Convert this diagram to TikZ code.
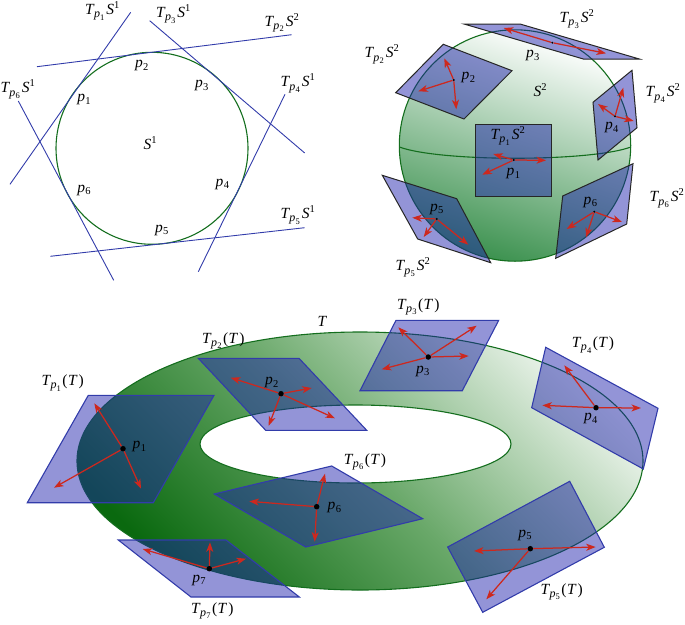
\documentclass[tikz,border=0pt]{standalone}
\usepackage{fontspec}
\setmainfont{Liberation Serif}
\usetikzlibrary{arrows.meta}
\definecolor{darkgrn}{RGB}{10,105,15}
\definecolor{midgrn}{RGB}{105,168,105}
\definecolor{spheregrn}{RGB}{50,140,70}
\definecolor{circgrn}{RGB}{20,110,30}
\definecolor{linblue}{RGB}{50,60,170}
\definecolor{planefill}{RGB}{30,32,172}
\definecolor{vecred}{RGB}{205,40,30}
\pgfdeclareverticalshading{torusgrad}{100bp}{color(0bp)=(darkgrn); color(36.7bp)=(darkgrn); color(49.8bp)=(midgrn); color(65bp)=(white); color(100bp)=(white)}
\pgfdeclareverticalshading{spheregrad}{100bp}{color(0bp)=(spheregrn); color(34bp)=(spheregrn); color(64bp)=(white); color(100bp)=(white)}
\newcommand{\Pp}[1]{\textit{p}\kern.4pt\raisebox{-2.8pt}{\fontsize{10.5}{10.5}\selectfont #1}}
\newcommand{\Tsub}[1]{\textit{T}\kern-.6pt\raisebox{-3.4pt}{\fontsize{12}{12}\selectfont\textit{p}\kern.2pt\raisebox{-2.2pt}{\fontsize{8.5}{8.5}\selectfont #1}}}
\newcommand{\Sph}[1]{\kern2pt\textit{S}\raisebox{6pt}{\fontsize{10.5}{10.5}\selectfont #1}}
\newcommand{\ofT}{\kern1.5pt(\kern.5pt\textit{T}\kern1pt)}
\tikzset{
  lab/.style={inner sep=0pt,font=\fontsize{15.5}{15.5}\selectfont},
  tanline/.style={draw=linblue,line width=.9pt},
  curve/.style={draw=circgrn,line width=1.1pt},
  torusplane/.style={draw=linblue,line width=1.1pt,fill=planefill,fill opacity=.48,draw opacity=1,line join=miter},
  sphereplane/.style={draw=black!85,line width=1pt,fill=planefill,fill opacity=.48,draw opacity=1,line join=miter},
  vecarrow/.style={draw=vecred,line width=1.25pt,-{Stealth[length=9.5pt,width=7pt,inset=2.6pt]}},
  bigdot/.style={circle,fill=black,inner sep=0pt,minimum size=5.5pt},
  smalldot/.style={circle,fill=black,inner sep=0pt,minimum size=2.2pt},
}
\begin{document}
\begin{tikzpicture}[x=1pt,y=-1pt]
\useasboundingbox (0,0) rectangle (685,624);
% ---- circle
\node[draw=circgrn,line width=1.1pt,circle,inner sep=0pt,minimum size=192pt] (circ) at (152,148.3) {};
\coordinate (a1) at (130.7,12.3); \coordinate (b1) at (10,184.3);
\coordinate (a2) at (37,66.7);    \coordinate (b2) at (291.7,34.7);
\coordinate (a3) at (149.7,20.7); \coordinate (b3) at (304.7,153);
\coordinate (a4) at (285,94.3);   \coordinate (b4) at (198.3,271.7);
\coordinate (a5) at (50.3,256.3); \coordinate (b5) at (304.7,227.7);
\coordinate (a6) at (18.3,101);   \coordinate (b6) at (113.7,280.3);
\foreach \i in {1,...,6} {\draw[tanline] (a\i) -- (b\i);}
\node[lab] (c1) at (102.3,11) {\Tsub{1}\Sph{1}};
\node[lab] (c3) at (173.3,14) {\Tsub{3}\Sph{1}};
\node[lab] (c2) at (281.7,22.7) {\Tsub{2}\Sph{2}};
\node[lab] (c4) at (297.7,83.3) {\Tsub{4}\Sph{1}};
\node[lab] (c6) at (17.7,89.3) {\Tsub{6}\Sph{1}};
\node[lab] (c5) at (297.7,215) {\Tsub{5}\Sph{1}};
\node[lab] (cp1) at (84,99.3) {\Pp{1}};
\node[lab] (cp2) at (141.7,65.7) {\Pp{2}};
\node[lab] (cp3) at (201.7,85.7) {\Pp{3}};
\node[lab] (cp4) at (222.3,184) {\Pp{4}};
\node[lab] (cp5) at (161.7,230) {\Pp{5}};
\node[lab] (cp6) at (84,190) {\Pp{6}};
\node[lab] (cs) at (150,143.3) {\textit{S}\raisebox{6pt}{\fontsize{10.5}{10.5}\selectfont 1}};
% ---- sphere
\begin{scope}
\clip (515,145.5) circle[radius=115.7];
\shade[shading=spheregrad,shading angle=-18] (315,-55) rectangle (715,345);
\end{scope}
\draw[curve] (515,145.5) circle[radius=115.7];
\draw[curve] (399.3,147) .. controls (440,162) and (590,162) .. (631,147);
\draw[sphereplane] (475.7,124) -- (551.7,124) -- (551.7,196.3) -- (475.7,196.3) -- cycle;
\draw[sphereplane] (443.3,44.3) -- (512,70.7) -- (464,119) -- (395.7,92.7) -- cycle;
\draw[sphereplane] (464,24) -- (520,24) -- (639.3,59) -- (583.3,59) -- cycle;
\draw[sphereplane] (632,70.3) -- (637,127.7) -- (598,160) -- (593,102.3) -- cycle;
\draw[sphereplane] (382.3,175.3) -- (456.7,198.7) -- (490.7,262.7) -- (417.7,239) -- cycle;
\draw[sphereplane] (633,163.7) -- (626.7,224) -- (555.7,258.3) -- (562.7,196) -- cycle;
\node[smalldot] (s1) at (513.7,160) {};
\node[smalldot] (s2) at (453.7,80) {};
\node[smalldot] (s3) at (552.3,42.7) {};
\node[smalldot] (s4) at (615,116.3) {};
\node[smalldot] (s5) at (436.7,219) {};
\node[smalldot] (s6) at (594.3,211.7) {};
\draw[vecarrow] (s1) -- (493.3,154) coordinate (s1a);
\draw[vecarrow] (s1) -- (546,160.3) coordinate (s1b);
\draw[vecarrow] (s1) -- (482.3,174.7) coordinate (s1c);
\draw[vecarrow] (s2) -- (444.3,58.3) coordinate (s2a);
\draw[vecarrow] (s2) -- (418.3,91.3) coordinate (s2b);
\draw[vecarrow] (s2) -- (456.3,109.3) coordinate (s2c);
\draw[vecarrow] (s3) -- (503.7,28) coordinate (s3a);
\draw[vecarrow] (s3) -- (606,53.3) coordinate (s3b);
\draw[vecarrow] (s4) -- (598,104) coordinate (s4a);
\draw[vecarrow] (s4) -- (623.3,87.7) coordinate (s4b);
\draw[vecarrow] (s4) -- (633.7,121) coordinate (s4c);
\draw[vecarrow] (s5) -- (412.3,217.7) coordinate (s5a);
\draw[vecarrow] (s5) -- (423.7,237) coordinate (s5b);
\draw[vecarrow] (s5) -- (468.3,244.7) coordinate (s5c);
\draw[vecarrow] (s6) -- (566.7,229) coordinate (s6a);
\draw[vecarrow] (s6) -- (586,237.3) coordinate (s6b);
\draw[vecarrow] (s6) -- (622,222) coordinate (s6c);
\node[lab] (st1) at (507.7,136) {\Tsub{1}\Sph{2}};
\node[lab] (sp1) at (513.3,173.3) {\Pp{1}};
\node[lab] (st2) at (381.7,54.3) {\Tsub{2}\Sph{2}};
\node[lab] (sp2) at (468.3,77.7) {\Pp{2}};
\node[lab] (st3) at (576.7,19) {\Tsub{3}\Sph{2}};
\node[lab] (sp3) at (532.7,55.7) {\Pp{3}};
\node[lab] (ss) at (540,90) {\textit{S}\raisebox{6pt}{\fontsize{10.5}{10.5}\selectfont 2}};
\node[lab] (st4) at (662.7,93.3) {\Tsub{4}\Sph{2}};
\node[lab] (sp4) at (611.7,127.3) {\Pp{4}};
\node[lab] (sp5) at (436.7,209) {\Pp{5}};
\node[lab] (st5) at (412.7,267.3) {\Tsub{5}\Sph{2}};
\node[lab] (sp6) at (590.3,202) {\Pp{6}};
\node[lab] (st6) at (666.7,198.3) {\Tsub{6}\Sph{2}};
% ---- torus
\begin{scope}
\clip (360,461) ellipse[x radius=283,y radius=129];
\shade[shading=torusgrad,shading angle=-45] (-40,60) rectangle (760,860);
\end{scope}
\draw[curve] (360,461) ellipse[x radius=283,y radius=129];
\draw[curve,fill=white] (355.5,444) ellipse[x radius=155.5,y radius=39];
\draw[torusplane] (88.3,395.3) -- (214,395.3) -- (153.3,502.7) -- (27.3,502.7) -- cycle;
\draw[torusplane] (198.3,358.3) -- (299,358.3) -- (366.7,430.3) -- (265.7,430.3) -- cycle;
\draw[torusplane] (396,320.3) -- (498.7,320.3) -- (462.3,390.7) -- (360,390.7) -- cycle;
\draw[torusplane] (545.7,347.3) -- (658,408.3) -- (643.3,469) -- (531.7,407.7) -- cycle;
\draw[torusplane] (569.7,481.3) -- (604.3,547.3) -- (482.7,612.3) -- (447.7,547) -- cycle;
\draw[torusplane] (331.7,466) -- (422.7,518.7) -- (305.7,547) -- (214.3,494) -- cycle;
\draw[torusplane] (118.3,540) -- (226,540) -- (299.3,597) -- (191,597) -- cycle;
\node[bigdot] (t1) at (123,448.7) {};
\node[bigdot] (t2) at (281,393.7) {};
\node[bigdot] (t3) at (428.3,357) {};
\node[bigdot] (t4) at (596,407.7) {};
\node[bigdot] (t5) at (530.3,548.7) {};
\node[bigdot] (t6) at (316.7,506.7) {};
\node[bigdot] (t7) at (209.3,568.7) {};
\draw[vecarrow] (t1) -- (94.3,403.3) coordinate (t1a);
\draw[vecarrow] (t1) -- (54,487.7) coordinate (t1b);
\draw[vecarrow] (t1) -- (141,488.7) coordinate (t1c);
\draw[vecarrow] (t2) -- (230.7,377.7) coordinate (t2a);
\draw[vecarrow] (t2) -- (311.7,388) coordinate (t2b);
\draw[vecarrow] (t2) -- (335,418.3) coordinate (t2c);
\draw[vecarrow] (t2) -- (268.7,425.7) coordinate (t2d);
\draw[vecarrow] (t3) -- (398.3,327.3) coordinate (t3a);
\draw[vecarrow] (t3) -- (476.7,325.7) coordinate (t3b);
\draw[vecarrow] (t3) -- (468.7,356) coordinate (t3c);
\draw[vecarrow] (t3) -- (381.7,369.3) coordinate (t3d);
\draw[vecarrow] (t4) -- (564.3,365.3) coordinate (t4a);
\draw[vecarrow] (t4) -- (542.3,405.3) coordinate (t4b);
\draw[vecarrow] (t4) -- (641,408) coordinate (t4c);
\draw[vecarrow] (t5) -- (474,551) coordinate (t5a);
\draw[vecarrow] (t5) -- (595.7,547) coordinate (t5b);
\draw[vecarrow] (t5) -- (486.3,599.3) coordinate (t5c);
\draw[vecarrow] (t6) -- (249.3,501.3) coordinate (t6a);
\draw[vecarrow] (t6) -- (325,473.7) coordinate (t6b);
\draw[vecarrow] (t6) -- (314.7,541.7) coordinate (t6c);
\draw[vecarrow] (t7) -- (142.7,549) coordinate (t7a);
\draw[vecarrow] (t7) -- (210,542.3) coordinate (t7b);
\draw[vecarrow] (t7) -- (246,558.7) coordinate (t7c);
\node[lab] (tl1) at (62.7,383) {\Tsub{1}\ofT};
\node[lab] (tl2) at (223.3,340.7) {\Tsub{2}\ofT};
\node[lab] (tlt) at (322.3,321.7) {\textit{T}};
\node[lab] (tl3) at (418.3,306.7) {\Tsub{3}\ofT};
\node[lab] (tl4) at (593,345) {\Tsub{4}\ofT};
\node[lab] (tl5) at (561.7,591.7) {\Tsub{5}\ofT};
\node[lab] (tl6) at (365,461.7) {\Tsub{6}\ofT};
\node[lab] (tl7) at (212.3,610.7) {\Tsub{7}\ofT};
\node[lab] (tp1) at (139.3,446.7) {\Pp{1}};
\node[lab] (tp2) at (271.7,382.7) {\Pp{2}};
\node[lab] (tp3) at (422.7,371) {\Pp{3}};
\node[lab] (tp4) at (590.7,418.3) {\Pp{4}};
\node[lab] (tp5) at (525,535) {\Pp{5}};
\node[lab] (tp6) at (334.3,507.3) {\Pp{6}};
\node[lab] (tp7) at (199,580) {\Pp{7}};
\end{tikzpicture}
\end{document}
